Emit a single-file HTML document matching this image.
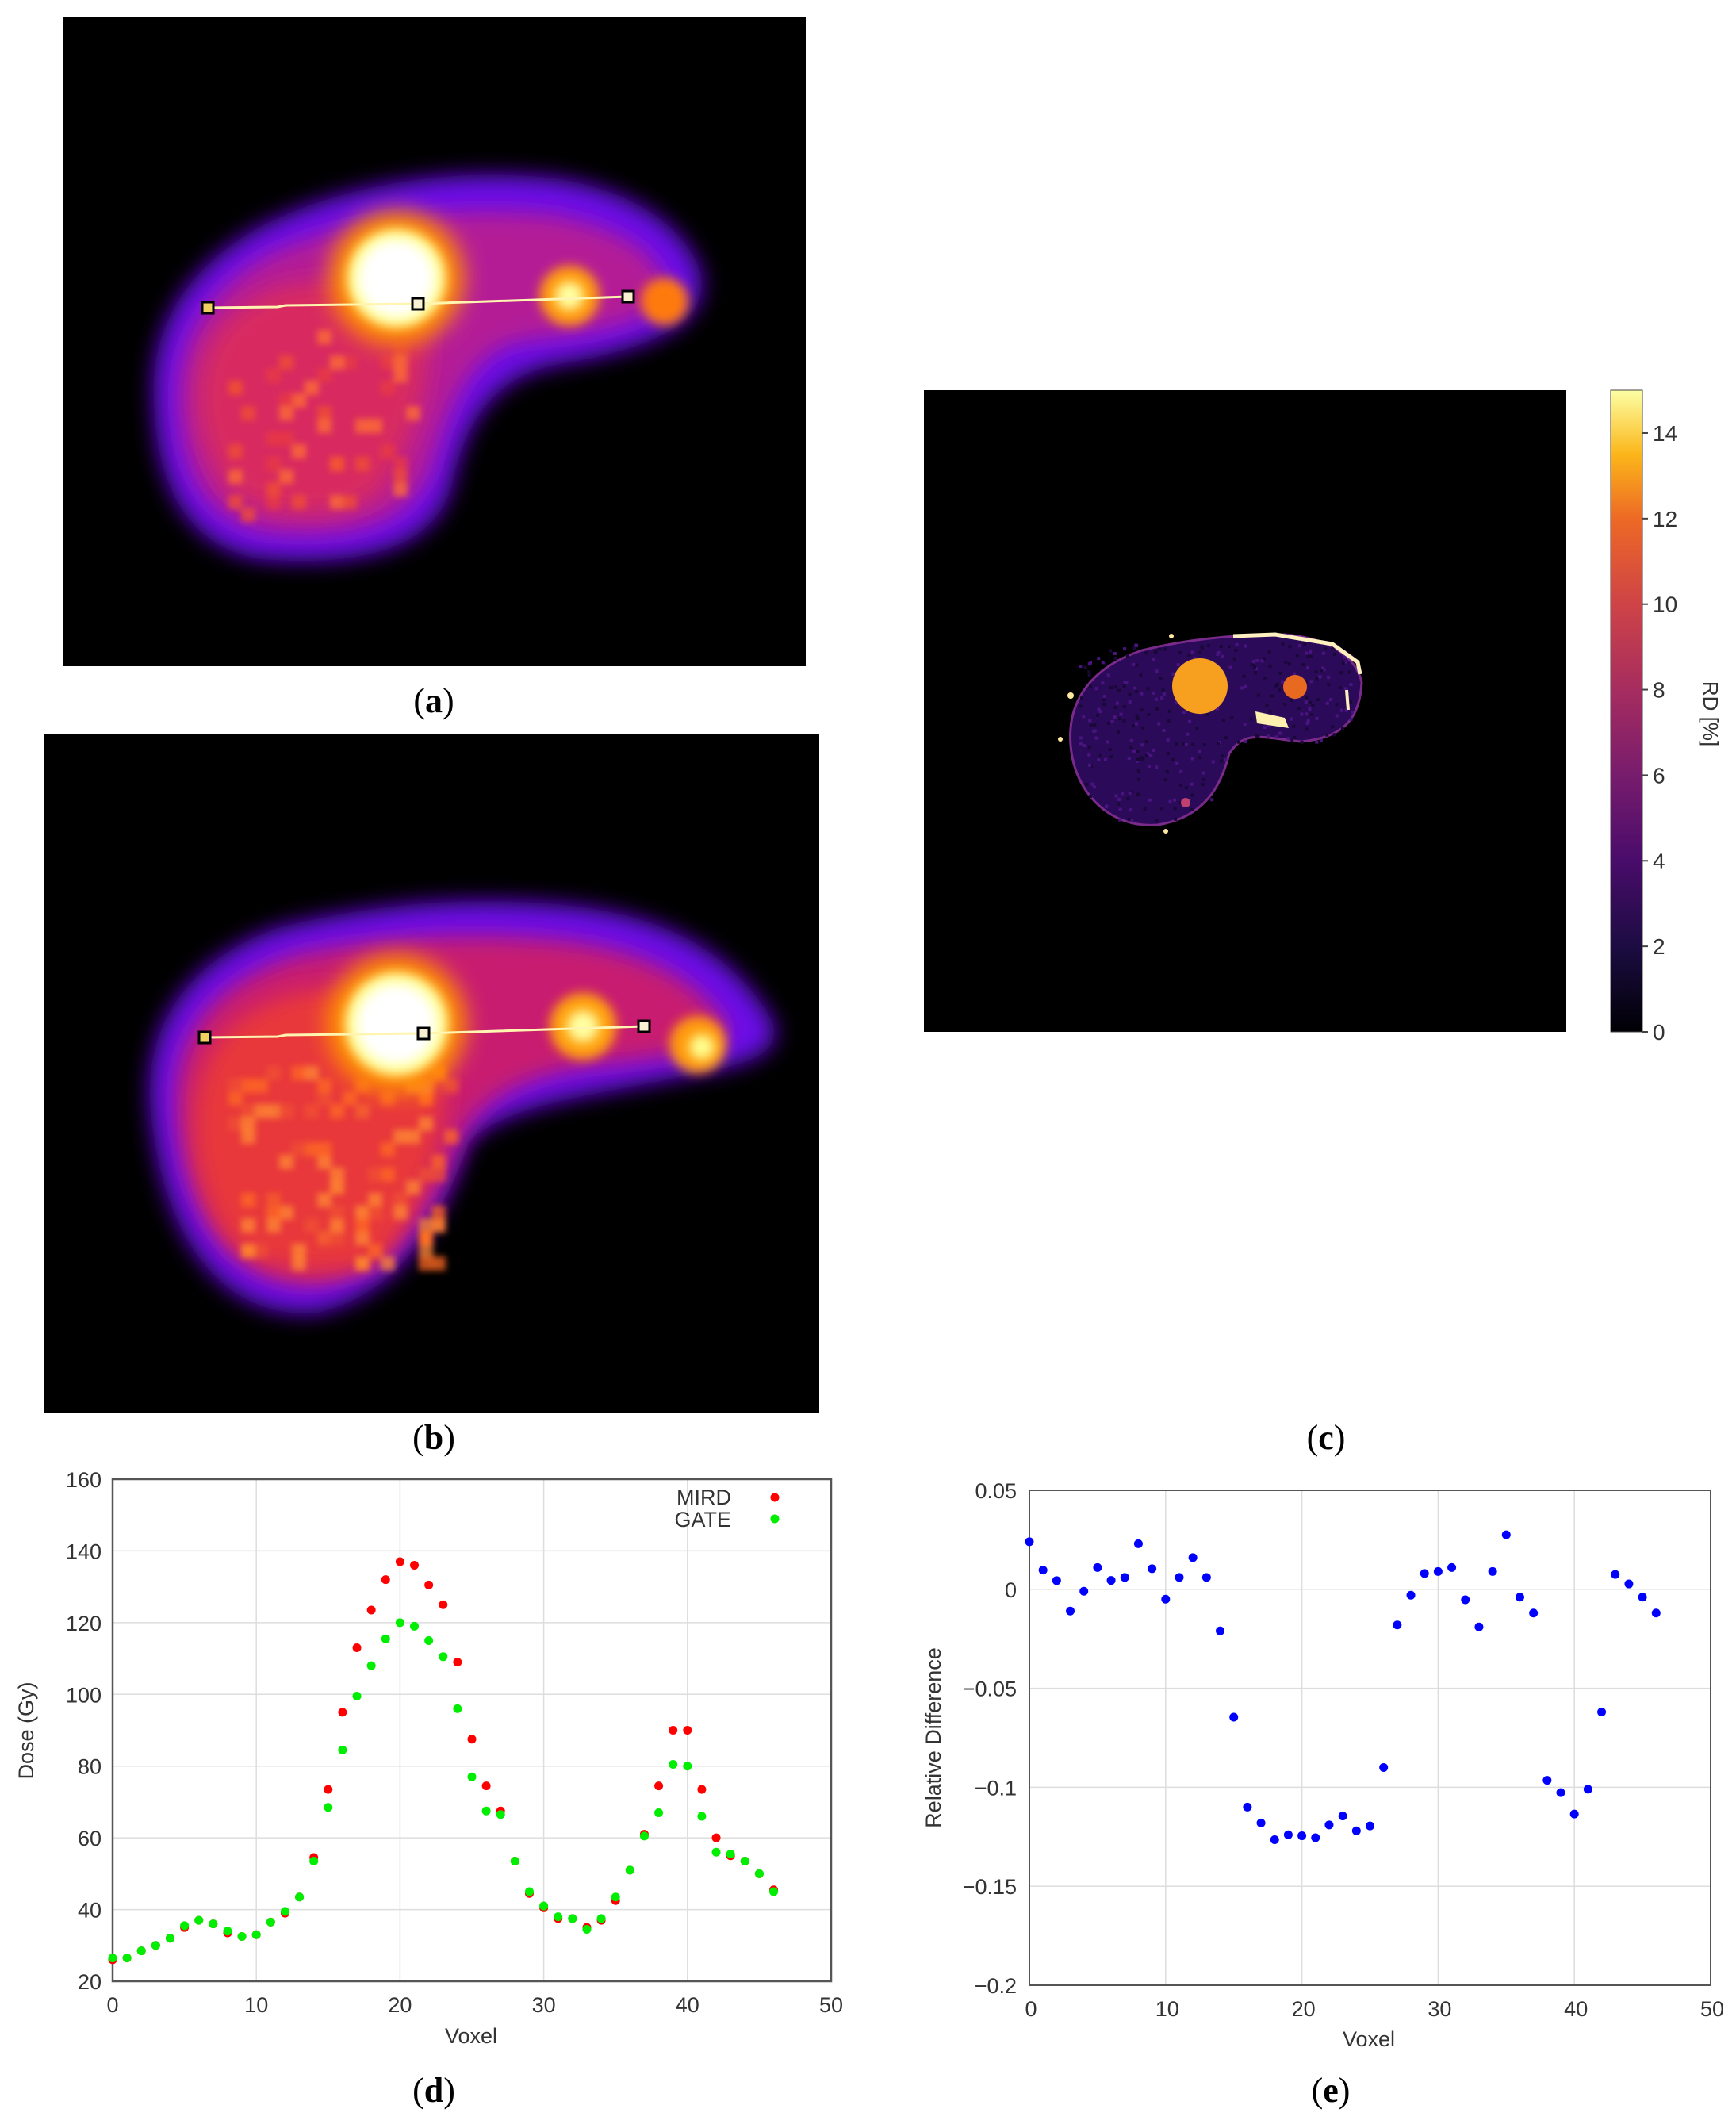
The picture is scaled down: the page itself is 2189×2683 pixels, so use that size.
<!DOCTYPE html>
<html><head><meta charset="utf-8"><style>
html,body{margin:0;padding:0;background:#fff;}
svg{display:block;}
text{font-family:"Liberation Sans",sans-serif;fill:#333;}
.cap{font-family:"Liberation Serif",serif;font-size:44px;fill:#000;}
</style></head><body>
<svg id="s" width="2189" height="2683" viewBox="0 0 2189 2683" xmlns="http://www.w3.org/2000/svg">
<defs>
<filter id="b30" x="-50%" y="-50%" width="200%" height="200%"><feGaussianBlur stdDeviation="28"/></filter>
<filter id="b15" x="-50%" y="-50%" width="200%" height="200%"><feGaussianBlur stdDeviation="14"/></filter>
<filter id="b8" x="-50%" y="-50%" width="200%" height="200%"><feGaussianBlur stdDeviation="7"/></filter>
<filter id="b4" x="-50%" y="-50%" width="200%" height="200%"><feGaussianBlur stdDeviation="4"/></filter>
<linearGradient id="cb" x1="0" y1="1" x2="0" y2="0">
<stop offset="0" stop-color="#000004"/><stop offset="0.13" stop-color="#1b0c41"/><stop offset="0.27" stop-color="#4a0c6b"/><stop offset="0.4" stop-color="#781c6d"/><stop offset="0.53" stop-color="#a52c60"/><stop offset="0.67" stop-color="#cf4446"/><stop offset="0.8" stop-color="#ed6925"/><stop offset="0.9" stop-color="#fbb61a"/><stop offset="1" stop-color="#fcffa4"/>
</linearGradient>
</defs>

<!-- Panel a -->
<rect x="79" y="21" width="937" height="819" fill="#000"/>
<g>
<path d="M195,520 C185,420 230,340 330,285 C430,235 560,210 700,225 C800,240 870,290 885,350 C890,410 820,440 700,460 C630,475 590,520 570,610 C550,690 460,715 330,705 C235,690 200,610 195,520 Z" fill="#6a10e8" filter="url(#b15)"/>
<path d="M225,510 C222,430 260,365 340,320 C440,275 560,260 690,270 C780,285 835,320 840,365 C835,405 760,420 660,430 C600,440 570,500 545,590 C520,660 450,680 340,672 C255,660 228,590 225,510 Z" fill="#b41a96" filter="url(#b15)"/>
<path d="M250,500 C250,430 290,385 360,360 C440,345 510,360 540,410 C545,480 520,560 480,620 C430,660 340,655 290,620 C262,580 250,540 250,500 Z" fill="#d82a60" filter="url(#b15)"/>
<g id="texA" filter="url(#b4)"></g>
<circle cx="500" cy="351" r="85" fill="#ff9000" filter="url(#b15)"/>
<circle cx="500" cy="351" r="62" fill="#ffffa0" filter="url(#b8)"/>
<circle cx="500" cy="351" r="48" fill="#fff" filter="url(#b8)"/>
<circle cx="718" cy="373" r="38" fill="#ff9a10" filter="url(#b8)"/>
<circle cx="718" cy="373" r="18" fill="#ffffa0" filter="url(#b8)"/>
<circle cx="838" cy="380" r="30" fill="#ff7a10" filter="url(#b8)"/>
<polyline points="262,388 350,387 360,385 527,383 792,374" stroke="#fff4b0" stroke-width="3" fill="none"/>
<rect x="255" y="381" width="14" height="14" fill="#f0d060" stroke="#000" stroke-width="3"/>
<rect x="520" y="376" width="14" height="14" fill="#f8f0d0" stroke="#000" stroke-width="3"/>
<rect x="785" y="367" width="14" height="14" fill="#f8f0d0" stroke="#000" stroke-width="3"/>
</g>
<text class="cap" x="547" y="898" text-anchor="middle">(<tspan font-weight="bold">a</tspan>)</text>

<!-- Panel b -->
<rect x="55" y="925" width="978" height="857" fill="#000"/>
<g>
<path d="M190,1400 C180,1290 240,1210 350,1170 C470,1140 580,1130 700,1140 C820,1150 920,1190 975,1290 C990,1330 930,1345 870,1355 C760,1380 640,1390 590,1440 C560,1530 510,1630 400,1655 C280,1665 205,1560 190,1400 Z" fill="#6a10e8" filter="url(#b15)"/>
<path d="M222,1400 C218,1300 270,1240 370,1205 C480,1180 590,1175 700,1185 C800,1195 880,1230 920,1300 C900,1330 820,1335 740,1345 C650,1360 600,1390 575,1450 C540,1540 490,1605 400,1620 C300,1625 232,1540 222,1400 Z" fill="#c81c70" filter="url(#b15)"/>
<path d="M245,1420 C245,1320 300,1270 380,1250 C460,1240 540,1270 560,1340 C565,1430 530,1530 480,1590 C420,1615 330,1605 290,1565 C258,1520 245,1470 245,1420 Z" fill="#e8383a" filter="url(#b15)"/>
<g id="texB" filter="url(#b4)"></g>
<circle cx="500" cy="1291" r="88" fill="#ff9000" filter="url(#b15)"/>
<circle cx="500" cy="1291" r="65" fill="#ffffa0" filter="url(#b8)"/>
<circle cx="500" cy="1291" r="50" fill="#fff" filter="url(#b8)"/>
<circle cx="735" cy="1294" r="42" fill="#ffa010" filter="url(#b8)"/>
<circle cx="735" cy="1294" r="20" fill="#ffffa0" filter="url(#b8)"/>
<circle cx="880" cy="1317" r="36" fill="#ff9a10" filter="url(#b8)"/>
<circle cx="885" cy="1320" r="16" fill="#ffff90" filter="url(#b8)"/>
<polyline points="258,1308 350,1307 360,1305 534,1303 812,1294" stroke="#fff4b0" stroke-width="3" fill="none"/>
<rect x="251" y="1301" width="14" height="14" fill="#f0d060" stroke="#000" stroke-width="3"/>
<rect x="527" y="1296" width="14" height="14" fill="#f8f0d0" stroke="#000" stroke-width="3"/>
<rect x="805" y="1287" width="14" height="14" fill="#f8f0d0" stroke="#000" stroke-width="3"/>
</g>
<text class="cap" x="547" y="1827" text-anchor="middle">(<tspan font-weight="bold">b</tspan>)</text>

<!-- Panel c -->
<rect x="1165" y="492" width="810" height="809" fill="#000"/>
<g id="cl">
<path d="M1350,940 C1345,880 1380,840 1440,820 C1500,805 1560,800 1620,800 C1680,805 1710,830 1717,860 C1715,900 1700,930 1640,935 C1590,930 1570,920 1550,950 C1540,990 1520,1030 1460,1040 C1400,1045 1355,1000 1350,940 Z" fill="#2c0a5a" stroke="#7a2a8a" stroke-width="3"/>
<g id="texC"></g>
<circle cx="1513" cy="865" r="35" fill="#f7a020"/>
<circle cx="1633" cy="866" r="15" fill="#e86a20"/>
<path d="M1583,897 L1620,905 L1625,918 L1585,912 Z" fill="#fff0b0"/>
<path d="M1555,802 L1608,800 L1680,812 L1712,835 L1715,850" stroke="#fff0c0" stroke-width="5" fill="none"/>
<path d="M1698,870 L1700,895" stroke="#fff0c0" stroke-width="4"/>
<circle cx="1350" cy="877" r="4" fill="#ffe9a0"/>
<circle cx="1337" cy="932" r="3" fill="#ffe9a0"/>
<circle cx="1470" cy="1048" r="3" fill="#ffe9a0"/>
<circle cx="1477" cy="802" r="3" fill="#ffe9a0"/>
<circle cx="1495" cy="1012" r="6" fill="#c04070"/>
</g>
<rect x="2031" y="492" width="40" height="809" fill="url(#cb)" stroke="#444" stroke-width="1"/>
<g id="cbt"></g>
<text x="2148" y="900" font-size="26" transform="rotate(90 2148 900)" text-anchor="middle" fill="#555">RD [%]</text>
<text class="cap" x="1672" y="1827" text-anchor="middle">(<tspan font-weight="bold">c</tspan>)</text>

<g id="pd"></g>
<text class="cap" x="547" y="2650" text-anchor="middle">(<tspan font-weight="bold">d</tspan>)</text>
<g id="pe"></g>
<text class="cap" x="1678" y="2650" text-anchor="middle">(<tspan font-weight="bold">e</tspan>)</text>
</svg>
<script>
var NS="http://www.w3.org/2000/svg";
function el(p,t,a,txt){var e=document.createElementNS(NS,t);for(var k in a)e.setAttribute(k,a[k]);if(txt!==undefined)e.textContent=txt;p.appendChild(e);return e;}
var seed=7;function rnd(){seed=(seed*16807)%2147483647;return seed/2147483647;}
// textures a/b
function tex(id,x0,y0,x1,y1,cols,n){var g=document.getElementById(id);for(var i=0;i<n;i++){var x=x0+rnd()*(x1-x0),y=y0+rnd()*(y1-y0);el(g,'rect',{x:Math.round(x/16)*16,y:Math.round(y/16)*16,width:18,height:18,fill:cols[Math.floor(rnd()*cols.length)],opacity:0.75});}}
tex('texA',280,420,520,640,['#f05030','#e83a40','#ff7030'],45);
tex('texB',275,1340,560,1590,['#ff6a20','#f05030','#ff8a30'],90);
// c texture
(function(){var g=document.getElementById('texC');for(var i=0;i<500;i++){var x=1360+rnd()*350,y=810+rnd()*230;
 var inside=(y<935)||(x<1550&&y<1035&&Math.pow((x-1450)/100,2)+Math.pow((y-945)/95,2)<1);if(!inside||x>1705)continue;
 el(g,'rect',{x:x,y:y,width:4,height:4,fill:rnd()<0.5?'#4a1480':'#1a0838'});}})();
// colorbar ticks
var cbt=document.getElementById('cbt');
for(var v=0;v<=14;v+=2){var y=1301-v*53.93;el(cbt,'line',{x1:2071,x2:2078,y1:y,y2:y,stroke:'#444','stroke-width':2});el(cbt,'text',{x:2084,y:y+10,'font-size':28,fill:'#444'},String(v));}
// panel d
var pd=document.getElementById('pd');
var L=142,R=1048,T=1865,B=2498;
function dx(v){return L+(R-L)*v/50;} function dy(v){return B-(B-T)*(v-20)/140;}
for(var i=0;i<=5;i++){var x=dx(i*10);el(pd,'line',{x1:x,x2:x,y1:T,y2:B,stroke:'#ddd','stroke-width':1.5});el(pd,'text',{x:x,y:2537,'font-size':27,'text-anchor':'middle',fill:'#444'},String(i*10));}
for(var v=20;v<=160;v+=20){var y=dy(v);el(pd,'line',{x1:L,x2:R,y1:y,y2:y,stroke:'#ddd','stroke-width':1.5});el(pd,'text',{x:128,y:y+10,'font-size':27,'text-anchor':'end',fill:'#444'},String(v));}
el(pd,'rect',{x:L,y:T,width:R-L,height:B-T,fill:'none',stroke:'#555','stroke-width':2.5});
el(pd,'text',{x:594,y:2576,'font-size':27,'text-anchor':'middle',fill:'#444'},'Voxel');
el(pd,'text',{x:42,y:2182,'font-size':27,'text-anchor':'middle',fill:'#444',transform:'rotate(-90 42 2182)'},'Dose (Gy)');
var M=[26,26.5,28.5,30,32,35,37,36,33.5,32.5,33,36.5,39,43.5,54.5,73.5,95,113,123.5,132,137,136,130.5,125,109,87.5,74.5,67.5,53.5,44.5,40.5,37.5,37.5,35,37,42.5,51,61,74.5,90,90,73.5,60,55,53.5,50,45.5];
var G=[26.5,26.5,28.5,30,32,35.5,37,36,34,32.5,33,36.5,39.5,43.5,53.5,68.5,84.5,99.5,108,115.5,120,119,115,110.5,96,77,67.5,66.5,53.5,45,41,38,37.5,34.5,37.5,43.5,51,60.5,67,80.5,80,66,56,55.5,53.5,50,45];
for(var i=0;i<M.length;i++){el(pd,'circle',{cx:dx(i),cy:dy(M[i]),r:5.5,fill:'#f00'});}
for(var i=0;i<G.length;i++){el(pd,'circle',{cx:dx(i),cy:dy(G[i]),r:5.5,fill:'#0e0'});}
el(pd,'text',{x:922,y:1897,'font-size':27,'text-anchor':'end',fill:'#444'},'MIRD');
el(pd,'text',{x:922,y:1925,'font-size':27,'text-anchor':'end',fill:'#444'},'GATE');
el(pd,'circle',{cx:977,cy:1888,r:5.5,fill:'#f00'});el(pd,'circle',{cx:977,cy:1915,r:5.5,fill:'#0e0'});
// panel e
var pe=document.getElementById('pe');
var L2=1298,R2=2157,T2=1879,B2=2503;
function ex(v){return L2+(R2-L2)*v/50;} function ey(v){return B2-(B2-T2)*(v+0.2)/0.25;}
for(var i=0;i<=5;i++){var x=ex(i*10);el(pe,'line',{x1:x,x2:x,y1:T2,y2:B2,stroke:'#ddd','stroke-width':1.5});el(pe,'text',{x:x+2,y:2542,'font-size':27,'text-anchor':'middle',fill:'#222'},String(i*10));}
var yl=['\u22120.2','\u22120.15','\u22120.1','\u22120.05','0','0.05'];
for(var i=0;i<6;i++){var v=-0.2+i*0.05;var y=ey(v);el(pe,'line',{x1:L2,x2:R2,y1:y,y2:y,stroke:'#ddd','stroke-width':1.5});el(pe,'text',{x:1282,y:y+10,'font-size':27,'text-anchor':'end',fill:'#222'},yl[i]);}
el(pe,'rect',{x:L2,y:T2,width:R2-L2,height:B2-T2,fill:'none',stroke:'#555','stroke-width':2});
el(pe,'text',{x:1726,y:2580,'font-size':27,'text-anchor':'middle',fill:'#222'},'Voxel');
el(pe,'text',{x:1186,y:2191,'font-size':27,'text-anchor':'middle',fill:'#222',transform:'rotate(-90 1186 2191)'},'Relative Difference');
var E=[0.024,0.0097,0.0044,-0.011,-0.001,0.011,0.0045,0.006,0.023,0.0104,-0.005,0.006,0.016,0.006,-0.021,-0.0646,-0.11,-0.118,-0.1265,-0.124,-0.1245,-0.1255,-0.119,-0.1145,-0.122,-0.1195,-0.09,-0.018,-0.003,0.008,0.009,0.011,-0.0053,-0.019,0.009,0.0275,-0.004,-0.012,-0.0965,-0.1027,-0.1135,-0.101,-0.062,0.0075,0.0027,-0.004,-0.012];
for(var i=0;i<E.length;i++){el(pe,'circle',{cx:ex(i),cy:ey(E[i]),r:5.5,fill:'#00f'});}
</script>
</body></html>
